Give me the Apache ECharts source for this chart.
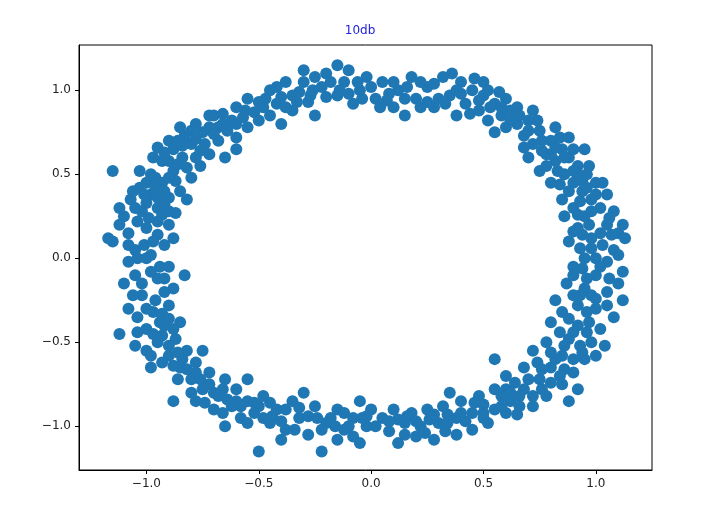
<!DOCTYPE html>
<html>
<head>
<meta charset="utf-8">
<script src="https://cdn.jsdelivr.net/npm/echarts@6/dist/echarts.min.js"></script>
<style>html,body{margin:0;background:#fff}#chart{width:720px;height:523px}</style>
</head>
<body>
<div id="chart"></div>
<script>
// points, by quadrant
const upperLeft = [[-1.15,0.1],[-1.17,0.12],[-1.05,0.05],[-0.98,0.02],[-0.92,0.08],[-1.08,0.15],[-1.0,0.18],[-0.9,0.2],[-1.1,0.25],[-1.02,0.28],[-0.95,0.3],[-0.87,0.27],[-1.07,0.35],[-0.98,0.38],[-0.9,0.36],[-1.03,0.42],[-0.93,0.45],[-0.85,0.4],[-1.15,0.52],[-0.98,0.5],[-0.88,0.52],[-0.8,0.48],[-0.93,0.58],[-0.84,0.6],[-0.76,0.55],[-0.88,0.65],[-0.8,0.68],[-0.72,0.62],[-0.83,0.73],[-0.75,0.75],[-0.68,0.7],[-0.78,0.8],[-0.68,0.78],[-0.6,0.72],[-0.7,0.85],[-0.62,0.82],[-0.55,0.78],[-0.6,0.9],[-0.52,0.87],[-0.45,0.85],[-0.5,0.93],[-0.42,0.92],[-0.35,0.88],[-0.45,1.0],[-0.35,0.97],[-0.28,0.93],[-0.3,1.05],[-0.22,1.02],[-0.15,0.97],[-0.2,1.1],[-0.12,1.05],[-0.05,1.0],[-0.08,0.92],[-0.02,1.08],[-0.3,1.12],[-0.15,1.15],[-0.25,0.85],[-0.4,0.8],[-0.6,0.65],[-0.97,0.6],[-1.0,0.45],[-0.95,0.22],[-0.88,0.12],[-1.12,0.3],[-0.72,0.85],[-0.55,0.95],[-0.38,1.05],[-0.65,0.6],[-0.82,0.35],[-0.85,0.78],[-0.9,0.7],
  [-1.04,0.0],[-0.95,0.14],[-1.12,0.2],[-1.04,0.22],[-0.93,0.26],[-1.0,0.33],[-1.06,0.4],[-0.96,0.42],[-0.87,0.46],[-1.03,0.52],[-0.9,0.58],[-0.78,0.6],[-0.95,0.66],[-0.84,0.67],[-0.74,0.68],[-0.8,0.76],[-0.72,0.78],[-0.64,0.76],[-0.66,0.86],[-0.57,0.84],[-0.48,0.9],[-0.4,0.96],[-0.32,0.99],[-0.26,1.0],[-0.18,1.05],[-0.1,0.98],[-0.25,1.08],[-0.1,1.12],[-0.42,1.02],[-0.5,0.82],[-0.82,0.54],[-0.92,0.32],
  [-1.01,0.08],[-0.97,0.1],[-1.08,0.08],[-0.99,0.24],[-0.9,0.28],[-1.05,0.3],[-0.95,0.36],[-1.01,0.38],[-0.92,0.4],[-0.96,0.48],[-0.9,0.48],[-0.86,0.56],[-0.92,0.63],[-0.86,0.7],[-0.78,0.71],[-0.76,0.64],[-0.7,0.74],[-0.66,0.8],[-0.6,0.8],[-0.56,0.88],[-0.47,0.95],[-0.38,0.9],[-0.33,0.93],[-0.27,0.97],[-0.2,0.96],[-0.14,1.0],[-0.06,1.05],[-0.04,0.95]];
const upperRight = [[0.02,0.95],[0.05,1.05],[0.1,0.9],[0.12,1.0],[0.18,1.08],[0.2,0.95],[0.25,1.02],[0.28,0.9],[0.32,1.08],[0.35,0.97],[0.4,1.05],[0.42,0.92],[0.45,1.0],[0.48,0.88],[0.5,0.97],[0.52,0.82],[0.55,0.92],[0.58,0.85],[0.6,0.78],[0.62,0.88],[0.65,0.8],[0.68,0.73],[0.7,0.82],[0.72,0.68],[0.75,0.76],[0.78,0.62],[0.8,0.7],[0.82,0.58],[0.85,0.65],[0.86,0.5],[0.88,0.6],[0.9,0.45],[0.92,0.55],[0.94,0.4],[0.96,0.5],[0.98,0.35],[1.0,0.45],[0.9,0.3],[0.95,0.25],[1.02,0.3],[1.05,0.2],[0.92,0.18],[0.98,0.12],[1.1,0.15],[1.12,0.2],[0.88,0.1],[0.75,0.52],[0.7,0.6],[0.55,0.75],[0.38,0.85],[0.15,0.85],[0.3,0.95],[0.08,0.98],[0.22,1.05],[0.6,0.95],[0.72,0.88],[0.82,0.78],[0.95,0.65],[1.05,0.38],[0.5,1.05],[0.36,1.1],[0.0,1.02],[0.8,0.45],[0.85,0.35],[1.08,0.05],[0.97,0.55],[0.88,0.72],
  [0.04,0.9],[0.15,0.95],[0.28,1.04],[0.4,0.98],[0.46,1.07],[0.53,0.9],[0.57,0.99],[0.65,0.9],[0.66,0.85],[0.76,0.7],[0.84,0.72],[0.78,0.55],[0.9,0.65],[0.83,0.52],[0.92,0.5],[1.03,0.45],[0.88,0.4],[1.0,0.38],[0.93,0.34],[1.08,0.28],[0.97,0.2],[1.02,0.15],[0.93,0.06],[1.03,0.08],[1.13,0.12],[0.86,0.25],[0.8,0.62],[0.68,0.66],[0.1,1.05],[0.25,0.93],[0.44,0.86],
  [0.07,0.94],[0.16,1.02],[0.22,0.9],[0.33,0.92],[0.38,1.0],[0.48,0.94],[0.52,1.0],[0.58,0.9],[0.62,0.82],[0.7,0.76],[0.74,0.82],[0.76,0.64],[0.82,0.66],[0.86,0.6],[0.84,0.44],[0.9,0.52],[0.94,0.46],[0.96,0.42],[0.92,0.26],[0.98,0.28],[1.06,0.24],[0.94,0.14],[1.07,0.14],[0.98,0.06],[0.9,0.16]];
const lowerRight = [[0.95,0.0],[1.05,-0.02],[0.9,-0.05],[1.0,-0.1],[1.12,-0.08],[0.87,-0.15],[0.95,-0.18],[1.05,-0.2],[0.92,-0.28],[1.0,-0.3],[1.12,-0.25],[0.85,-0.32],[0.92,-0.4],[1.02,-0.42],[0.8,-0.38],[0.88,-0.48],[0.98,-0.5],[0.78,-0.5],[0.85,-0.58],[0.95,-0.6],[0.72,-0.55],[0.8,-0.65],[0.9,-0.68],[0.68,-0.65],[0.75,-0.72],[0.85,-0.75],[0.6,-0.7],[0.68,-0.78],[0.78,-0.82],[0.55,-0.78],[0.62,-0.85],[0.72,-0.88],[0.48,-0.82],[0.55,-0.9],[0.65,-0.93],[0.4,-0.85],[0.45,-0.92],[0.52,-0.98],[0.32,-0.88],[0.38,-0.95],[0.45,-1.02],[0.25,-0.9],[0.3,-0.98],[0.38,-1.05],[0.18,-0.92],[0.22,-1.0],[0.28,-1.08],[0.1,-0.9],[0.15,-0.98],[0.2,-1.06],[0.05,-0.95],[0.08,-1.03],[1.08,-0.35],[0.82,-0.25],[0.98,-0.22],[0.88,-0.85],[0.6,-0.78],[0.35,-0.8],[0.12,-1.1],[0.92,-0.78],[1.0,-0.58],[0.55,-0.6],[1.1,0.02],
  [0.9,-0.1],[1.0,0.0],[1.06,-0.12],[0.93,-0.22],[1.05,-0.28],[0.88,-0.36],[0.97,-0.38],[0.84,-0.44],[0.93,-0.52],[1.04,-0.52],[0.9,-0.6],[0.8,-0.56],[0.86,-0.66],[0.74,-0.62],[0.8,-0.74],[0.7,-0.72],[0.64,-0.74],[0.72,-0.82],[0.58,-0.82],[0.66,-0.88],[0.5,-0.87],[0.6,-0.92],[0.42,-0.97],[0.34,-0.93],[0.28,-0.93],[0.33,-1.03],[0.2,-0.97],[0.12,-0.96],[0.02,-1.0],[0.15,-1.05],[0.5,-0.95],[1.1,-0.15],
  [0.94,-0.06],[1.02,-0.05],[0.96,-0.12],[0.9,-0.22],[1.0,-0.24],[0.96,-0.32],[0.9,-0.44],[0.96,-0.44],[0.86,-0.52],[0.94,-0.56],[0.82,-0.6],[0.84,-0.7],[0.76,-0.66],[0.76,-0.78],[0.66,-0.82],[0.62,-0.8],[0.58,-0.88],[0.5,-0.92],[0.46,-0.86],[0.4,-0.92],[0.34,-0.98],[0.26,-0.96],[0.24,-1.04],[0.16,-0.94],[0.08,-0.97]];
const lowerLeft = [[0.0,-0.9],[-0.02,-1.0],[-0.05,-1.1],[-0.08,-0.95],[-0.12,-1.02],[-0.15,-0.9],[-0.2,-0.98],[-0.22,-1.15],[-0.25,-0.88],[-0.28,-1.05],[-0.32,-0.95],[-0.35,-0.85],[-0.38,-1.02],[-0.42,-0.9],[-0.45,-0.98],[-0.48,-0.82],[-0.5,-1.15],[-0.52,-0.92],[-0.55,-0.85],[-0.58,-0.95],[-0.6,-0.78],[-0.62,-0.88],[-0.65,-0.72],[-0.68,-0.82],[-0.7,-0.9],[-0.72,-0.68],[-0.75,-0.78],[-0.78,-0.62],[-0.8,-0.72],[-0.82,-0.55],[-0.85,-0.65],[-0.87,-0.48],[-0.9,-0.58],[-0.92,-0.4],[-0.95,-0.5],[-0.85,-0.38],[-0.97,-0.32],[-1.0,-0.42],[-0.9,-0.28],[-1.02,-0.22],[-1.08,-0.3],[-0.88,-0.18],[-0.95,-0.12],[-1.05,-0.1],[-1.1,-0.15],[-0.9,-0.05],[-1.0,0.0],[-1.08,-0.02],[-0.83,-0.1],[-0.88,-0.85],[-0.65,-1.0],[-0.4,-1.08],[-0.15,-1.08],[-0.3,-0.8],[-0.55,-0.72],[-0.75,-0.55],[-0.78,-0.85],[-1.12,-0.45],[-1.05,-0.52],[-0.98,-0.65],[-0.05,-0.85],
  [-0.94,-0.05],[-1.02,-0.15],[-0.92,-0.2],[-0.96,-0.25],[-1.04,-0.35],[-0.93,-0.33],[-0.88,-0.42],[-0.97,-0.45],[-0.9,-0.52],[-1.0,-0.55],[-0.84,-0.6],[-0.93,-0.62],[-0.78,-0.68],[-0.86,-0.72],[-0.72,-0.75],[-0.8,-0.8],[-0.66,-0.78],[-0.74,-0.86],[-0.6,-0.85],[-0.66,-0.92],[-0.5,-0.88],[-0.55,-0.98],[-0.44,-0.94],[-0.38,-0.9],[-0.34,-1.02],[-0.28,-0.94],[-0.22,-1.02],[-0.18,-0.95],[-0.1,-1.0],[-0.04,-0.95],[-0.08,-1.06],[-0.45,-0.86],
  [-0.98,-0.08],[-0.92,-0.12],[-1.0,-0.3],[-0.94,-0.38],[-0.9,-0.36],[-0.93,-0.46],[-0.86,-0.56],[-0.88,-0.64],[-0.82,-0.66],[-0.76,-0.72],[-0.7,-0.8],[-0.64,-0.84],[-0.58,-0.88],[-0.52,-0.86],[-0.48,-0.95],[-0.4,-0.97],[-0.32,-0.89],[-0.24,-0.95],[-0.16,-1.0],[-0.12,-0.92],[-0.02,-0.94],[-1.04,-0.44],[-1.06,-0.22],[-0.98,-0.58]];
const tickValues = [-1.0, -0.5, 0.0, 0.5, 1.0];

const fmt = v => (v < 0 ? '\u2212' : '') + Math.abs(v).toFixed(1);
const axisCommon = {
  type: 'value',
  axisLine: { show: true, onZero: false, lineStyle: { color: '#000' } },
  axisTick: { show: true, inside: false, length: 4, customValues: tickValues, lineStyle: { color: '#000' } },
  axisLabel: { customValues: tickValues, formatter: fmt, color: '#222', fontSize: 12, fontFamily: 'DejaVu Sans' },
  splitLine: { show: false }
};

const chart = echarts.init(document.getElementById('chart'));
chart.setOption({
  animation: false,
  title: { text: '10db', left: 'center', top: 20, textStyle: { color: '#2222dd', fontSize: 12, fontWeight: 'normal', fontFamily: 'DejaVu Sans' } },
  grid: { left: 79, right: 68, top: 45, bottom: 53, show: true, borderColor: '#000', borderWidth: 1 },
  xAxis: Object.assign({}, axisCommon, { min: -1.3, max: 1.25 }),
  yAxis: Object.assign({}, axisCommon, { min: -1.26, max: 1.27 }),
  series: [{
    type: 'scatter',
    symbolSize: 12,
    itemStyle: { color: '#1f77b4', opacity: 1 },
    data: upperLeft.concat(upperRight, lowerRight, lowerLeft)
  }]
});
</script>
</body>
</html>
